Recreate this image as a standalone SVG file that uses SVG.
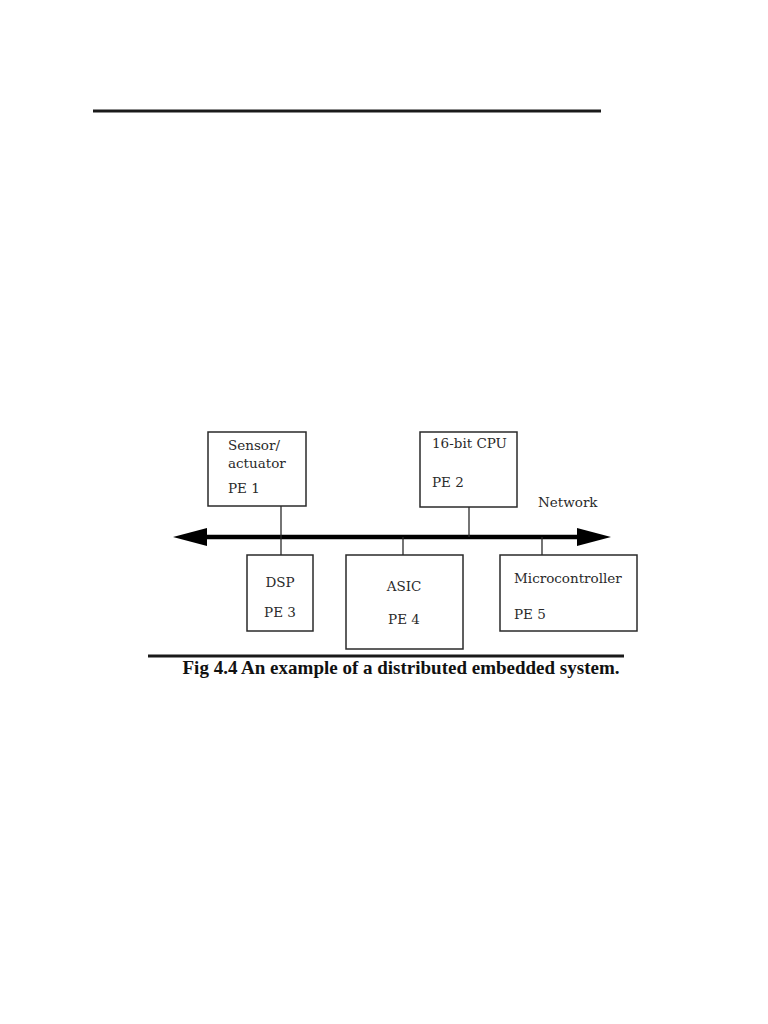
<svg xmlns="http://www.w3.org/2000/svg" width="768" height="1024" viewBox="0 0 768 1024">
<defs>
<style>
.box{fill:#fff;stroke:#2a2a2a;stroke-width:1.5}
.t{font-family:"DejaVu Serif","Liberation Serif",serif;font-size:13.5px;fill:#2a2a2a}
.c{stroke:#2a2a2a;stroke-width:1.3;fill:none}
.rule{stroke:#1a1a1a;stroke-width:3}
</style>
<marker id="ah" markerUnits="userSpaceOnUse" markerWidth="36" markerHeight="20" refX="0" refY="9" orient="auto-start-reverse" overflow="visible">
<path d="M0,0 L34,9 L0,18 Z" fill="#000"/>
</marker>
</defs>
<rect width="768" height="1024" fill="#fff"/>
<line class="rule" x1="93" y1="111" x2="601" y2="111"/>
<g id="connectors">
<line x1="207" y1="537" x2="577" y2="537" stroke="#000" stroke-width="4.5" marker-start="url(#ah)" marker-end="url(#ah)"/>
<line class="c" x1="281" y1="506" x2="281" y2="555"/>
<line class="c" x1="469" y1="507" x2="469" y2="537"/>
<line class="c" x1="403" y1="537" x2="403" y2="555"/>
<line class="c" x1="542" y1="537" x2="542" y2="555"/>
</g>
<text class="t" x="538" y="507">Network</text>
<g id="pe1">
<rect class="box" x="208" y="432" width="98" height="74"/>
<text class="t" x="228" y="450">Sensor/</text>
<text class="t" x="228" y="468">actuator</text>
<text class="t" x="228" y="493">PE 1</text>
</g>
<g id="pe2">
<rect class="box" x="420" y="432" width="97" height="75"/>
<text class="t" x="432" y="448">16-bit CPU</text>
<text class="t" x="432" y="487">PE 2</text>
</g>
<g id="pe3">
<rect class="box" x="247" y="555" width="66" height="76"/>
<text class="t" x="280" y="587" text-anchor="middle">DSP</text>
<text class="t" x="280" y="617" text-anchor="middle">PE 3</text>
</g>
<g id="pe4">
<rect class="box" x="346" y="555" width="117" height="94"/>
<text class="t" x="404" y="591" text-anchor="middle">ASIC</text>
<text class="t" x="404" y="624" text-anchor="middle">PE 4</text>
</g>
<g id="pe5">
<rect class="box" x="500" y="555" width="137" height="76"/>
<text class="t" x="514" y="583">Microcontroller</text>
<text class="t" x="514" y="619">PE 5</text>
</g>
<line class="rule" x1="148" y1="656" x2="624" y2="656"/>
<text x="401" y="674" text-anchor="middle" font-family="'Liberation Serif',serif" font-weight="bold" font-size="19" fill="#111">Fig 4.4 An example of a distributed embedded system.</text>
</svg>
